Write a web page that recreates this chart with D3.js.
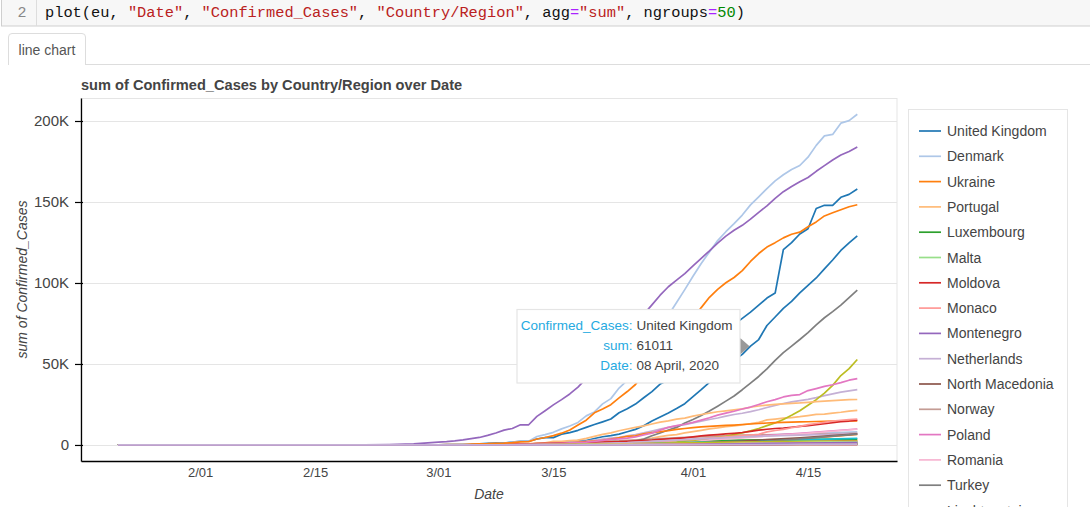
<!DOCTYPE html>
<html>
<head>
<meta charset="utf-8">
<script src="https://cdn.jsdelivr.net/npm/d3@7"></script>
<style>
  html, body { margin: 0; padding: 0; background: #fff; overflow: hidden; }
  svg { display: block; font-family: "Liberation Sans", Arial, Helvetica, sans-serif; }
</style>
</head>
<body>
<svg id="chart" width="1090" height="507"></svg>
<script>
// ---------- DATA ----------
const codeLine = "plot(eu, \"Date\", \"Confirmed_Cases\", \"Country/Region\", agg=\"sum\", ngroups=50)";
const tabLabel = "line chart";
const chartTitle = "sum of Confirmed_Cases by Country/Region over Date";
const xAxisLabel = "Date";
const yAxisLabel = "sum of Confirmed_Cases";

const xTickLabels = ["2/01", "2/15", "3/01", "3/15", "4/01", "4/15"];
const yTickValues = [0, 50000, 100000, 150000, 200000];
const yTickLabels = ["0", "50K", "100K", "150K", "200K"];

// group order (legend order)
const countries = ["United Kingdom","Denmark","Ukraine","Portugal","Luxembourg","Malta","Moldova","Monaco",
  "Montenegro","Netherlands","North Macedonia","Norway","Poland","Romania","Turkey","Liechtenstein",
  "Russia","San Marino","Finland","Slovakia","France","Spain","Austria","Switzerland","Lithuania",
  "Slovenia","Sweden","Ireland","Italy","Czechia","Serbia","Iceland","Belgium","Croatia","Belarus",
  "Estonia","Greece","Hungary","Bosnia and Herzegovina","Bulgaria","Albania","Andorra","Germany",
  "Latvia","Cyprus","Kazakhstan","Georgia","Armenia","Azerbaijan","Kosovo"];
const legendVisibleCount = 16; // the rest of the legend lies below the window

// dates for the daily-resolution series (2020)
const dailyDates = ["1/22","2/01","2/15","2/21","2/24","2/27",
  "3/01","3/02","3/03","3/04","3/05","3/06","3/07","3/08","3/09","3/10",
  "3/11","3/12","3/13","3/14","3/15","3/16","3/17","3/18","3/19","3/20",
  "3/21","3/22","3/23","3/24","3/25","3/26","3/27","3/28","3/29","3/30","3/31",
  "4/01","4/02","4/03","4/04","4/05","4/06","4/07","4/08","4/09","4/10",
  "4/11","4/12","4/13","4/14","4/15","4/16","4/17","4/18","4/19","4/20","4/21"];

const spain = [0,1,2,2,2,15,
  84,120,165,222,259,400,500,673,1073,1695, 2277,2277,5232,6391,7798,9942,11748,13910,17963,20410,
  25374,28603,35136,39885,49515,57786,65719,73235,80110,87956, 95923,
  104118,112065,119199,126168,131646,136675,141942,148220,153222,158273,
  163027,166831,170099,172541,177644,184948,190839,191726,198674,200210, 204178];
const italy = [0,2,3,20,229,655,
  1694,2036,2502,3089,3858,4636,5883,7375,9172,10149, 12462,12462,17660,21157,24747,27980,31506,35713,41035,47021,
  53578,59138,63927,69176,74386,80589,86498,92472,97689,101739, 105792,
  110574,115242,119827,124632,128948,132547,135586,139422,143626,147577,
  152271,156363,159516,162488,165155,168941,172434,175925,178972,181228, 183957];
const france = [0,6,12,12,12,38,
  130,191,204,288,380,656,957,1134,1217,1792, 2289,2289,3672,4480,4513,6650,7652,9043,10871,12612,
  14282,16018,19856,22304,25233,29155,32964,37575,40174,44550, 52128,
  56989,59105,64338,68605,70478,74390,78167,82048,86334,90676,
  93790,120633,124869,130253,133470,145960,147969,147969,152894,154715, 158050];
const germany = [0,8,16,16,16,46,
  130,159,196,262,482,670,799,1040,1176,1457, 1908,2078,3675,4585,5795,7272,9257,12327,15320,19848,
  22213,24873,29056,32986,37323,43938,50871,57695,62095,66885, 71808,
  77872,84794,91159,96092,100123,103374,107663,113296,118181,122171,
  124908,127854,130072,131359,134753,137698,141397,143342,145184,147065, 148291];
const unitedKingdom = [0,2,9,9,13,15,
  36,40,51,86,116,164,207,274,322,384, 459,459,802,1144,1145,1551,1960,2642,2716,4014,
  5067,5745,6726,8164,9640,11812,14745,17312,19780,22453, 25481,
  29865,34173,38689,42477,48436,52279,55949,61011,65077,73758,
  78991,84279,88621,93873,98476,103093,108692,114217,120067,124743, 129044];
const turkey = [0,0,0,0,0,0,
  0,0,0,0,0,0,0,0,0,0, 1,1,5,5,6,18,47,98,192,359,
  670,1236,1529,1872,2433,3629,5698,7402,9217,10827, 13531,
  15679,18135,20921,23934,27069,30217,34109,38226,42282,47029,
  52167,56956,61049,65111,69392,74193,78546,82329,86306,90980, 95591];
const russia = [0,2,2,2,2,2,
  2,3,3,3,4,13,13,17,17,20, 20,28,45,59,63,90,114,147,199,253,
  306,367,438,495,658,840,1036,1264,1534,1836, 2337,
  2777,3548,4149,4731,5389,6343,7497,8672,10131,11917,
  13584,15770,18328,21102,24490,27938,32008,36793,42853,47121, 52763];
const belgium = [0,1,1,1,1,1,
  2,8,13,23,50,109,169,200,239,267, 314,314,559,689,886,1058,1243,1486,1795,2257,
  2815,3401,3743,4269,4937,6235,7284,9134,10836,11899, 12775,
  13964,15348,16770,18431,19691,20814,22194,23403,24983,26667,
  28018,29647,30589,31119,33573,34809,36138,37183,38496,39983, 40956];
const netherlands = [0,0,0,0,0,1,
  10,18,24,38,82,128,188,265,321,382, 503,503,804,959,1135,1413,1705,2051,2460,2994,
  3631,4204,4749,5560,6412,7431,8603,9762,10866,11750, 12595,
  13614,14697,15723,16627,17851,18803,19580,20549,21762,23097,
  24413,25587,26551,27419,28153,29214,30449,31589,32655,33405, 34134];
const switzerland = [0,0,0,0,1,8,
  27,42,56,90,114,214,268,337,374,491, 652,652,1139,1359,2200,2200,2700,3028,4075,5294,
  6575,7474,8795,9877,10897,11811,12928,14076,14829,15922, 16605,
  17768,18827,19606,20505,21100,21657,22253,23280,24051,24551,
  25107,25415,25688,25936,26336,26732,27078,27404,27740,27944, 28063];
const portugal = [0,0,0,0,0,0,
  0,2,2,5,8,13,20,30,30,41, 59,59,112,169,245,331,448,448,785,1020,
  1280,1600,2060,2362,2995,3544,4268,5170,5962,6408, 7443,
  8251,9034,9886,10524,11278,11730,12442,13141,13956,15472,
  15987,16585,16934,17448,18091,18841,19022,19685,20206,20863, 21379];
const ireland = [0,0,0,0,0,0,
  1,1,1,2,6,13,18,19,21,34, 43,43,90,129,129,169,223,292,557,683,
  785,906,1125,1329,1564,1819,2121,2415,2615,2910, 3235,
  3447,3849,4273,4604,4994,5364,5709,6074,6574,8089,
  8928,9655,10647,11479,12547,13271,13980,14758,15251,15652, 16040];
const sweden = [0,1,1,1,1,7,
  7,7,11,16,87,135,161,203,248,355, 500,599,814,961,1022,1103,1190,1279,1439,1639,
  1763,1934,2046,2286,2526,2840,3069,3447,3700,4028, 4435,
  4947,5568,6131,6443,6830,7206,7693,8419,9141,9685,
  10151,10483,10948,11445,11927,12540,13216,13822,14385,14777, 15322];
const austria = [0,0,0,0,0,3,
  14,18,21,29,41,55,79,104,131,182, 246,302,504,655,860,1018,1332,1646,2013,2388,
  2814,3582,4474,5283,5588,6909,7657,8271,8788,9618, 10180,
  10711,11129,11524,11781,12051,12297,12639,12942,13244,13555,
  13806,13945,14041,14226,14336,14476,14595,14671,14749,14795, 14873];

// dates for the weekly-resolution (smaller) series (2020)
const weeklyDates = ["1/22","3/01","3/10","3/17","3/24","3/31","4/07","4/14","4/21"];
const poland      = [0,0,22,238,901,2311,4848,7202,9856];
const romania     = [0,3,15,158,762,2245,4417,6879,9710];
const denmark     = [0,4,442,1151,1877,3386,5635,6876,8108];
const norway      = [0,19,400,1463,2863,4641,6086,6623,7191];
const czechia     = [0,3,41,396,1394,3308,5017,6111,7033];
const serbia      = [0,0,5,65,384,900,2447,4465,6890];
const belarus     = [0,1,9,36,81,152,1066,3728,6723];
const ukraine     = [0,0,1,14,145,794,1668,3764,6592];
const finland     = [0,6,40,321,792,1418,2308,3161,4014];
const luxembourg  = [0,2,7,140,1099,2178,2970,3307,3618];
const greece      = [0,7,89,387,743,1314,1832,2170,2401];
const hungary     = [0,0,9,50,187,492,817,1512,2098];
const moldova     = [0,0,3,30,125,353,1056,1934,2472];
const malta       = [0,0,6,38,139,169,293,393,443];
const monaco      = [0,0,1,7,23,52,79,93,94];
const montenegro  = [0,0,0,1,52,105,241,288,316];
const northMacedonia = [0,0,7,26,136,329,599,1081,1231];
const liechtenstein  = [0,0,0,28,51,68,78,79,81];
const sanMarino   = [0,1,63,119,187,236,279,371,476];
const slovakia    = [0,0,7,72,216,363,581,863,1199];
const lithuania   = [0,1,3,27,209,537,912,1149,1398];
const slovenia    = [0,0,34,275,528,802,1059,1220,1336];
const iceland     = [0,0,81,220,648,1135,1586,1720,1778];
const croatia     = [0,7,12,65,382,867,1343,1704,1908];
const estonia     = [0,1,13,225,369,745,1149,1400,1552];
const bosnia      = [0,0,5,63,131,368,674,1090,1368];
const bulgaria    = [0,0,6,81,218,399,577,747,975];
const albania     = [0,0,10,55,123,243,383,475,609];
const andorra     = [0,0,1,39,188,376,583,673,717];
const latvia      = [0,0,17,60,221,446,548,655,739];
const cyprus      = [0,0,6,67,132,262,446,695,784];
const kazakhstan  = [0,0,0,33,79,343,727,1232,1995];
const georgia     = [0,3,15,34,54,110,211,306,416];
const armenia     = [0,1,1,78,265,532,853,1111,1401];
const azerbaijan  = [0,3,11,28,87,298,717,1197,1480];
const kosovo      = [0,0,0,2,86,112,165,374,561];

const tooltipRows = [["Confirmed_Cases:", "United Kingdom"], ["sum:", "61011"], ["Date:", "08 April, 2020"]];
const tooltipCountry = "United Kingdom";
const tooltipDate = "4/08";

// ---------- build table ----------
const seriesByCountry = {
  "United Kingdom": [dailyDates, unitedKingdom], "Denmark": [weeklyDates, denmark], "Ukraine": [weeklyDates, ukraine],
  "Portugal": [dailyDates, portugal], "Luxembourg": [weeklyDates, luxembourg], "Malta": [weeklyDates, malta],
  "Moldova": [weeklyDates, moldova], "Monaco": [weeklyDates, monaco], "Montenegro": [weeklyDates, montenegro],
  "Netherlands": [dailyDates, netherlands], "North Macedonia": [weeklyDates, northMacedonia], "Norway": [weeklyDates, norway],
  "Poland": [weeklyDates, poland], "Romania": [weeklyDates, romania], "Turkey": [dailyDates, turkey],
  "Liechtenstein": [weeklyDates, liechtenstein], "Russia": [dailyDates, russia], "San Marino": [weeklyDates, sanMarino],
  "Finland": [weeklyDates, finland], "Slovakia": [weeklyDates, slovakia], "France": [dailyDates, france],
  "Spain": [dailyDates, spain], "Austria": [dailyDates, austria], "Switzerland": [dailyDates, switzerland],
  "Lithuania": [weeklyDates, lithuania], "Slovenia": [weeklyDates, slovenia], "Sweden": [dailyDates, sweden],
  "Ireland": [dailyDates, ireland], "Italy": [dailyDates, italy], "Czechia": [weeklyDates, czechia],
  "Serbia": [weeklyDates, serbia], "Iceland": [weeklyDates, iceland], "Belgium": [dailyDates, belgium],
  "Croatia": [weeklyDates, croatia], "Belarus": [weeklyDates, belarus], "Estonia": [weeklyDates, estonia],
  "Greece": [weeklyDates, greece], "Hungary": [weeklyDates, hungary], "Bosnia and Herzegovina": [weeklyDates, bosnia],
  "Bulgaria": [weeklyDates, bulgaria], "Albania": [weeklyDates, albania], "Andorra": [weeklyDates, andorra],
  "Germany": [dailyDates, germany], "Latvia": [weeklyDates, latvia], "Cyprus": [weeklyDates, cyprus],
  "Kazakhstan": [weeklyDates, kazakhstan], "Georgia": [weeklyDates, georgia], "Armenia": [weeklyDates, armenia],
  "Azerbaijan": [weeklyDates, azerbaijan], "Kosovo": [weeklyDates, kosovo]
};

const category20 = ["#1f77b4","#aec7e8","#ff7f0e","#ffbb78","#2ca02c","#98df8a","#d62728","#ff9896",
  "#9467bd","#c5b0d5","#8c564b","#c49c94","#e377c2","#f7b6d2","#7f7f7f","#c7c7c7","#bcbd22","#dbdb8d",
  "#17becf","#9edae5"];

const parseMD = s => { const [m, d] = s.split("/").map(Number); return new Date(Date.UTC(2020, m - 1, d)); };

// ---------- layout ----------
const svg = d3.select("#chart");
const W = 1090, H = 507;
const plot = { left: 81, right: 897, top: 98, bottom: 461 };

// notebook chrome
svg.append("rect").attr("x", 1.5).attr("y", -2).attr("width", W).attr("height", 28)
  .attr("fill", "#f7f7f7").attr("stroke", "#cfcfcf");
svg.append("line").attr("x1", 36.5).attr("x2", 36.5).attr("y1", 0).attr("y2", 26).attr("stroke", "#dddddd");
svg.append("text").attr("x", 22).attr("y", 17).attr("text-anchor", "middle")
  .attr("font-family", "'Liberation Mono', 'DejaVu Sans Mono', monospace").attr("font-size", 15)
  .attr("fill", "#888").text("2");
const code = svg.append("text").attr("x", 45).attr("y", 17)
  .attr("font-family", "'Liberation Mono', 'DejaVu Sans Mono', monospace").attr("font-size", 15.35)
  .attr("fill", "#111");
const tokenRe = /("[^"]*")|(=)|(\d+)|([^"=\d]+)/g;
let mt;
while ((mt = tokenRe.exec(codeLine)) !== null) {
  let col = "#111";
  if (mt[1]) col = "#BA2121";
  else if (mt[2]) col = "#AA22FF";
  else if (mt[3]) col = "#008800";
  code.append("tspan").attr("fill", col).attr("xml:space", "preserve").text(mt[0]);
}
// tab
svg.append("line").attr("x1", 8).attr("x2", W).attr("y1", 64.5).attr("y2", 64.5).attr("stroke", "#dddddd");
svg.append("path").attr("d", "M8.5,65 L8.5,37 Q8.5,33.5 12,33.5 L82,33.5 Q85.5,33.5 85.5,37 L85.5,65")
  .attr("fill", "#fff").attr("stroke", "#dddddd");
svg.append("text").attr("x", 47).attr("y", 55).attr("text-anchor", "middle")
  .attr("font-size", 14).attr("fill", "#555").text(tabLabel);

// scales
const x = d3.scaleUtc()
  .domain([new Date(Date.UTC(2020, 0, 17, 12)), new Date(Date.UTC(2020, 3, 25, 20))])
  .range([plot.left, plot.right]);
const y = d3.scaleLinear().domain([-9900, 214200]).range([plot.bottom, plot.top]);

// outline + grid
svg.append("rect").attr("x", plot.left).attr("y", plot.top + 0.5)
  .attr("width", plot.right - plot.left).attr("height", plot.bottom - plot.top)
  .attr("fill", "none").attr("stroke", "#e5e5e5");
svg.append("g").selectAll("line").data(yTickValues).join("line")
  .attr("x1", plot.left).attr("x2", plot.right)
  .attr("y1", d => Math.round(y(d)) + 0.5).attr("y2", d => Math.round(y(d)) + 0.5)
  .attr("stroke", "#e5e5e5").attr("stroke-width", 1);

// title
svg.append("text").attr("x", plot.left).attr("y", 90)
  .attr("font-size", 14.6).attr("font-weight", "bold").attr("fill", "#444").text(chartTitle);

// lines
svg.append("clipPath").attr("id", "clip").append("rect")
  .attr("x", plot.left + 1).attr("y", plot.top + 1)
  .attr("width", plot.right - plot.left - 1).attr("height", plot.bottom - plot.top - 2);
const lineGen = d3.line().x(d => x(d[0])).y(d => y(d[1]));
const linesG = svg.append("g").attr("clip-path", "url(#clip)");
countries.forEach((c, i) => {
  const [dates, vals] = seriesByCountry[c];
  const pts = dates.map((d, k) => [parseMD(d), vals[k]]);
  linesG.append("path").datum(pts).attr("d", lineGen)
    .attr("fill", "none").attr("stroke", category20[i % 20])
    .attr("stroke-width", 1.7).attr("stroke-linejoin", "round");
});

// axes
const yAxis = d3.axisLeft(y).tickValues(yTickValues).tickFormat((d, i) => yTickLabels[i])
  .tickSizeInner(6).tickSizeOuter(0).tickPadding(6);
const gy = svg.append("g").attr("transform", `translate(${plot.left},0)`).call(yAxis);
gy.select(".domain").attr("stroke", "#000").attr("stroke-width", 1.3);
gy.selectAll(".tick line").attr("stroke", "#000").attr("x2", -6).attr("x1", 2).attr("stroke-width", 1.2);
gy.selectAll(".tick text").attr("font-size", 15).attr("fill", "#444")
  .attr("font-family", "'Liberation Sans', Arial, sans-serif");

const xAxis = d3.axisBottom(x).tickValues(xTickLabels.map(parseMD))
  .tickFormat((d, i) => xTickLabels[i]).tickSize(0).tickSizeOuter(0).tickPadding(0);
const gx = svg.append("g").attr("transform", `translate(0,${plot.bottom})`).call(xAxis);
gx.select(".domain").attr("stroke", "#000").attr("stroke-width", 1.3);
gx.selectAll(".tick text").attr("font-size", 13).attr("fill", "#444").attr("dy", null).attr("y", 16)
  .attr("font-family", "'Liberation Sans', Arial, sans-serif");

// axis labels
svg.append("text").attr("x", (plot.left + plot.right) / 2).attr("y", 499).attr("text-anchor", "middle")
  .attr("font-size", 14).attr("font-style", "italic").attr("fill", "#444").text(xAxisLabel);
svg.append("text").attr("transform", `translate(27,${(plot.top + plot.bottom) / 2}) rotate(-90)`)
  .attr("text-anchor", "middle").attr("font-size", 14).attr("font-style", "italic").attr("fill", "#444")
  .text(yAxisLabel);

// legend
const lg = svg.append("g");
lg.append("rect").attr("x", 908.5).attr("y", 109.5).attr("width", 159).attr("height", 420)
  .attr("fill", "#fff").attr("stroke", "#e5e5e5");
countries.slice(0, legendVisibleCount).forEach((c, i) => {
  const yy = 131 + i * 25.3;
  lg.append("line").attr("x1", 919).attr("x2", 941).attr("y1", yy).attr("y2", yy)
    .attr("stroke", category20[i % 20]).attr("stroke-width", 1.7);
  lg.append("text").attr("x", 947).attr("y", yy + 5).attr("font-size", 14).attr("fill", "#444").text(c);
});

// tooltip
const [ttD, ttV] = seriesByCountry[tooltipCountry];
const ttVal = ttV[ttD.indexOf(tooltipDate)];
const ax = x(parseMD(tooltipDate)), ay = y(ttVal);
const tt = svg.append("g");
const boxR = ax - 11, boxL = boxR - 223, boxT = 309, boxB = 382.5;
tt.append("rect").attr("x", boxL + 0.5).attr("y", boxT + 0.5).attr("width", boxR - boxL).attr("height", boxB - boxT)
  .attr("fill", "#fff").attr("stroke", "#e5e5e5").attr("stroke-width", 1.2);
tt.append("path").attr("d", `M${boxR + 1},${ay - 8} L${boxR + 10},${ay} L${boxR + 1},${ay + 8} Z`)
  .attr("fill", "#999");
tooltipRows.forEach((r, i) => {
  const yy = 330 + i * 20;
  tt.append("text").attr("x", boxL + 116).attr("y", yy).attr("text-anchor", "end")
    .attr("font-size", 13.5).attr("fill", "#26aae1").text(r[0]);
  tt.append("text").attr("x", boxL + 120).attr("y", yy)
    .attr("font-size", 13.5).attr("fill", "#444").text(r[1]);
});
</script>
</body>
</html>
